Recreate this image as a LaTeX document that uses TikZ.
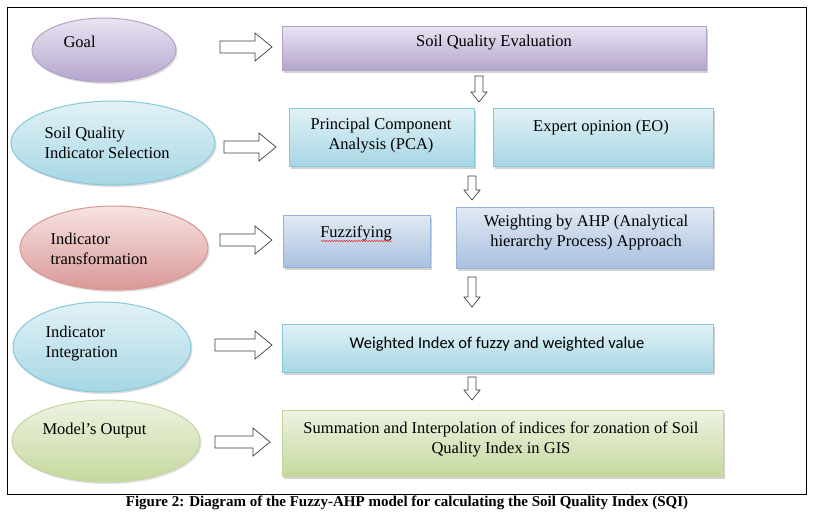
\documentclass[tikz,border=0pt]{standalone}
\usepackage{fontspec}
\setmainfont{Liberation Serif}
\newfontfamily\calib{Carlito}
\usetikzlibrary{shapes.geometric,shadows,decorations.pathmorphing}
\definecolor{pu1}{HTML}{EAE4F2}\definecolor{pu2}{HTML}{B4A5CE}\definecolor{pub}{HTML}{B3A2C7}
\definecolor{cy1}{HTML}{E2F2F6}\definecolor{cy2}{HTML}{A6D6E4}\definecolor{cyb}{HTML}{86C8DA}
\definecolor{re1}{HTML}{F6E4E3}\definecolor{re2}{HTML}{DA9896}\definecolor{reb}{HTML}{D99694}
\definecolor{bl1}{HTML}{E2EAF4}\definecolor{bl2}{HTML}{A9C0DF}\definecolor{blb}{HTML}{95B3D7}
\definecolor{gr1}{HTML}{EEF3E2}\definecolor{gr2}{HTML}{C5D89E}\definecolor{grb}{HTML}{C3D69B}
\newcommand\myHarrow[3]{\draw[arr] (#1,#3-6) -- (#2-17,#3-6) -- (#2-17,#3-14) -- (#2,#3) -- (#2-17,#3+14) -- (#2-17,#3+6) -- (#1,#3+6) -- cycle;}
\newcommand\myVarrow[3]{\draw[arr] (#1-4,#2) -- (#1+4,#2) -- (#1+4,#3-10) -- (#1+8,#3-10) -- (#1,#3) -- (#1-8,#3-10) -- (#1-4,#3-10) -- cycle;}
\begin{document}
\begin{tikzpicture}[x=1pt,y=-1pt,
 every node/.style={font=\fontsize{16.5}{20}\selectfont},
 arr/.style={draw=black!75,fill=white,line width=0.7pt},
 ell/.style={ellipse,draw=#1b,line width=1pt,top color=#11,bottom color=#12,inner sep=0pt,
   drop shadow={shadow xshift=1.5pt,shadow yshift=-2pt,fill=gray!50}},
 box/.style={draw=#1b,line width=1pt,top color=#11,bottom color=#12,align=center,
   drop shadow={shadow xshift=2pt,shadow yshift=-2.5pt,fill=gray!70}},
 lab/.style={align=left,anchor=west}]
\useasboundingbox (0,0) rectangle (814,523);
\fill[white] (0,0) rectangle (814,523);
\draw[line width=0.8pt] (7,7) rectangle (806,494);
% ellipses
\node[ell=pu,minimum width=144pt,minimum height=64pt] (e1) at (104,50) {};
\node[lab] (t1) at (60,42) {Goal};
\node[ell=cy,minimum width=204pt,minimum height=84pt] (e2) at (113,143) {};
\node[lab] (t2) at (41,143) {Soil Quality\\Indicator Selection};
\node[ell=re,minimum width=188pt,minimum height=84pt] (e3) at (114,248) {};
\node[lab] (t3) at (47,249) {Indicator\\transformation};
\node[ell=cy,minimum width=178pt,minimum height=90pt] (e4) at (102,347) {};
\node[lab] (t4) at (42,344) {Indicator\\Integration};
\node[ell=gr,minimum width=188pt,minimum height=82pt] (e5) at (106,441) {};
\node[lab] (t5) at (39,431) {Model's Output};
% boxes
\node[box=pu,minimum width=424pt,minimum height=44pt] (b1) at (494,48) {};
\node (b1t) at (494,43) {Soil Quality Evaluation};
\node[box=cy,minimum width=185pt,minimum height=58pt] (b2) at (381.5,137) {};
\node (b2t) at (381,136) [align=center] {Principal Component\\Analysis (PCA)};
\node[box=cy,minimum width=220pt,minimum height=58pt] (b3) at (603,137) {};
\node (b3t) at (601,128) {Expert opinion (EO)};
\node[box=bl,minimum width=147pt,minimum height=52pt] (b4) at (356.5,241) {};
\node (b4t) at (356,233) {Fuzzifying};
\draw[red,decorate,decoration={snake,amplitude=0.6pt,segment length=2.5pt},line width=0.4pt] (321,241) -- (392,241);
\node[box=bl,minimum width=257pt,minimum height=61pt] (b5) at (584.5,237.5) {};
\node (b5t) at (586,233) [align=center] {Weighting by AHP (Analytical\\hierarchy Process) Approach};
\node[box=cy,minimum width=431pt,minimum height=48pt] (b6) at (497.5,348) {};
\node (b6t) at (497,344) {\calib\fontsize{16.5}{20}\selectfont Weighted Index of fuzzy and weighted value};
\node[box=gr,minimum width=441pt,minimum height=66pt] (b7) at (502.5,443) {};
\node (b7t) at (501,439) [align=center] {Summation and Interpolation of indices for zonation of Soil\\Quality Index in GIS};
% arrows
\myHarrow{220}{272}{47}
\myHarrow{224}{276}{147}
\myHarrow{220}{272}{240}
\myHarrow{215}{272}{345}
\myHarrow{215}{270}{442}
\myVarrow{479}{76}{102}
\myVarrow{472}{176}{200}
\myVarrow{472}{277}{307}
\myVarrow{472}{377}{400}
\node (cap) at (407,503) {\bfseries\fontsize{15}{18}\selectfont Figure 2: Diagram of the Fuzzy-AHP model for calculating the Soil Quality Index (SQI)};
\end{tikzpicture}
\end{document}
